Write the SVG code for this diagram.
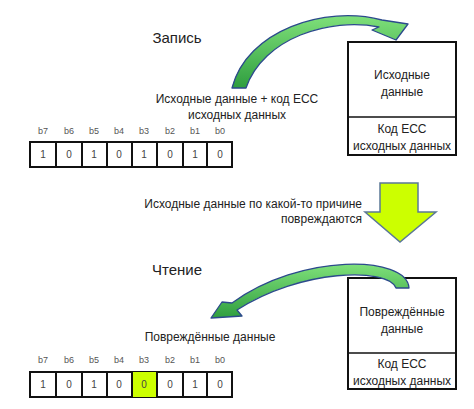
<svg xmlns="http://www.w3.org/2000/svg" width="474" height="409" viewBox="0 0 474 409">
<style>
text{font-family:"Liberation Sans",Arial,sans-serif;fill:#222}
.t{font-size:12px}
.h{font-size:15px}
.c{text-anchor:middle}
.r{text-anchor:end}
.box{fill:#fff;stroke:#111;stroke-width:2}
.cell{fill:#fff;stroke:#111;stroke-width:2}
.bl{font-size:9px;fill:#555;text-anchor:middle}
.bv{font-size:10px;fill:#444;text-anchor:middle}
.arc{fill:url(#g);stroke:#2c4a8c;stroke-width:1.3;stroke-linejoin:round}
</style>
<defs>
<linearGradient id="g" x1="0" y1="0" x2="0" y2="1">
<stop offset="0" stop-color="#7fe07a"/>
<stop offset="1" stop-color="#2f9e3f"/>
</linearGradient>
</defs>
<rect width="474" height="409" fill="#fff"/>
<g id="label-write"><text class="h c" x="177" y="43">Запись</text></g>
<g id="label-src"><text class="t c" x="237" y="103">Исходные данные + код ECC</text><text class="t c" x="237" y="119">исходных данных</text></g>
<g id="box-top">
<rect class="box" x="348" y="42" width="108" height="113"/>
<line x1="348" y1="117" x2="456" y2="117" stroke="#111" stroke-width="1.5"/>
<text class="t c" x="402" y="79">Исходные</text><text class="t c" x="402" y="96">данные</text>
<text class="t c" x="402" y="133">Код ECC</text><text class="t c" x="402" y="150">исходных данных</text>
</g>
<g id="bits-top">
<rect class="cell" x="30" y="142" width="202" height="25"/>
<g stroke="#111" stroke-width="2"><line x1="56" y1="142" x2="56" y2="167"/><line x1="82" y1="142" x2="82" y2="167"/><line x1="107" y1="142" x2="107" y2="167"/><line x1="132" y1="142" x2="132" y2="167"/><line x1="157" y1="142" x2="157" y2="167"/><line x1="183" y1="142" x2="183" y2="167"/><line x1="207" y1="142" x2="207" y2="167"/></g>
<text class="bl" x="43" y="134">b7</text><text class="bl" x="69" y="134">b6</text><text class="bl" x="94" y="134">b5</text><text class="bl" x="119" y="134">b4</text><text class="bl" x="144" y="134">b3</text><text class="bl" x="170" y="134">b2</text><text class="bl" x="195" y="134">b1</text><text class="bl" x="220" y="134">b0</text>
<text class="bv" x="43" y="158">1</text><text class="bv" x="69" y="158">0</text><text class="bv" x="94" y="158">1</text><text class="bv" x="119" y="158">0</text><text class="bv" x="144" y="158">1</text><text class="bv" x="170" y="158">0</text><text class="bv" x="195" y="158">1</text><text class="bv" x="220" y="158">0</text>
</g>
<g id="label-damage"><text class="t r" x="362" y="208">Исходные данные по какой-то причине</text><text class="t r" x="362" y="223">повреждаются</text></g>
<g id="label-read"><text class="h c" x="177" y="275">Чтение</text></g>
<g id="label-damaged"><text class="t c" x="210" y="341">Повреждённые данные</text></g>
<g id="box-bottom">
<rect class="box" x="348" y="278" width="108" height="111"/>
<line x1="348" y1="353" x2="456" y2="353" stroke="#111" stroke-width="1.5"/>
<text class="t c" x="402" y="316">Повреждённые</text><text class="t c" x="402" y="333">данные</text>
<text class="t c" x="402" y="368">Код ECC</text><text class="t c" x="402" y="385">исходных данных</text>
</g>
<g id="bits-bottom">
<rect class="cell" x="30" y="372" width="202" height="25"/>
<rect x="132" y="372" width="25" height="25" fill="#ccff00"/>
<g stroke="#111" stroke-width="2"><line x1="56" y1="372" x2="56" y2="397"/><line x1="82" y1="372" x2="82" y2="397"/><line x1="107" y1="372" x2="107" y2="397"/><line x1="132" y1="372" x2="132" y2="397"/><line x1="157" y1="372" x2="157" y2="397"/><line x1="183" y1="372" x2="183" y2="397"/><line x1="207" y1="372" x2="207" y2="397"/></g>
<text class="bl" x="43" y="363">b7</text><text class="bl" x="69" y="363">b6</text><text class="bl" x="94" y="363">b5</text><text class="bl" x="119" y="363">b4</text><text class="bl" x="144" y="363">b3</text><text class="bl" x="170" y="363">b2</text><text class="bl" x="195" y="363">b1</text><text class="bl" x="220" y="363">b0</text>
<text class="bv" x="43" y="388">1</text><text class="bv" x="69" y="388">0</text><text class="bv" x="94" y="388">1</text><text class="bv" x="119" y="388">0</text><text class="bv" x="144" y="388">0</text><text class="bv" x="170" y="388">0</text><text class="bv" x="195" y="388">1</text><text class="bv" x="220" y="388">0</text>
</g>
<g id="connectors">
<path class="arc" d="M232,88 C247,30 325,5 382,20 L408,24 L396,40 L372,30 L379,27 C330,17 263,38 246,88 Z"/>
<polygon points="380,183 418,183 418,212 436,212 400,242 365,212 380,212" fill="#ccff00" stroke="#5b7896" stroke-width="1.5"/>
<path class="arc" d="M409,288 C407,255 300,253 232,303 L222,302 L211,318 L242,316 L237,310 C300,269 388,267 396,288 Z"/>
</g>
</svg>
